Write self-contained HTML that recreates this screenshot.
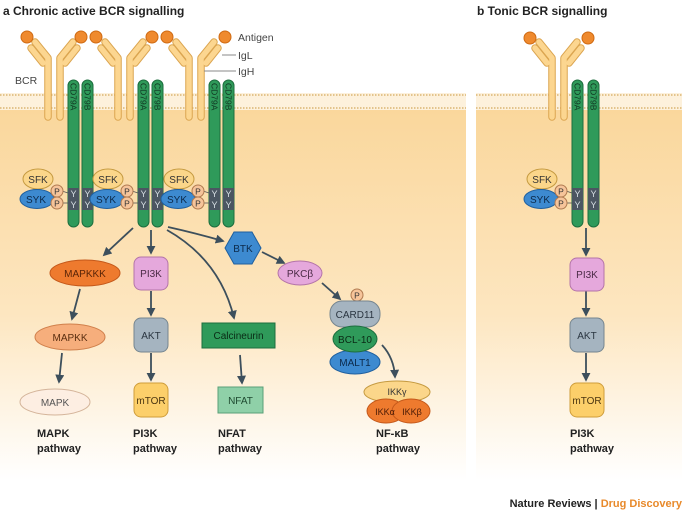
<!DOCTYPE html>
<html><head><meta charset="utf-8"><style>
html,body{margin:0;padding:0;background:#fff;}
svg{display:block;font-family:"Liberation Sans",sans-serif;}
</style></head><body>
<svg width="685" height="514" viewBox="0 0 685 514" xmlns="http://www.w3.org/2000/svg">
<defs>
<linearGradient id="bg" x1="0" y1="0" x2="0" y2="1">
<stop offset="0" stop-color="#fad79c"/><stop offset="0.55" stop-color="#fde6c0"/><stop offset="1" stop-color="#ffffff"/>
</linearGradient>
<marker id="ar" viewBox="0 0 10 10" refX="8" refY="5" markerWidth="5" markerHeight="5" orient="auto">
<path d="M0,0 L10,5 L0,10 z" fill="#3d4f5c"/></marker>
</defs>

<!-- backgrounds -->
<rect x="0" y="110" width="466" height="370" fill="url(#bg)"/>
<rect x="476" y="110" width="206" height="370" fill="url(#bg)"/>
<rect x="0" y="93" width="466" height="17" fill="#fdf1dc"/>
<rect x="476" y="93" width="206" height="17" fill="#fdf1dc"/>
<g stroke="#e3c48c" stroke-width="2" stroke-dasharray="1.5,1.5">
<line x1="0" y1="95" x2="466" y2="95"/><line x1="0" y1="108" x2="466" y2="108"/>
<line x1="476" y1="95" x2="682" y2="95"/><line x1="476" y1="108" x2="682" y2="108"/>
</g>

<!-- titles -->
<text x="3" y="15" font-size="12" font-weight="bold" fill="#222">a  Chronic active BCR signalling</text>
<text x="477" y="15" font-size="12" font-weight="bold" fill="#222">b  Tonic BCR signalling</text>

<!-- unit template drawn 4 times -->
<g id="u1" transform="translate(54,0)">
<g fill="none" stroke-linecap="round" stroke-linejoin="round">
<g stroke="#dba550" stroke-width="7.5"><path d="M-6,117 L-6,58 L-19,42"/><path d="M6,117 L6,58 L19,42"/><path d="M-11,63 L-23,48"/><path d="M11,63 L23,48"/></g>
<g stroke="#fcd690" stroke-width="5.5"><path d="M-6,117 L-6,58 L-19,42"/><path d="M6,117 L6,58 L19,42"/><path d="M-11,63 L-23,48"/><path d="M11,63 L23,48"/></g>
</g>
<circle cx="-27" cy="37" r="6" fill="#ef8a2e" stroke="#cf6a12"/><circle cx="27" cy="37" r="6" fill="#ef8a2e" stroke="#cf6a12"/>
<rect x="14" y="80" width="11" height="147" rx="5.5" fill="#2f9a5a" stroke="#1d6e3e"/>
<rect x="28" y="80" width="11" height="147" rx="5.5" fill="#2f9a5a" stroke="#1d6e3e"/>
<rect x="14" y="188" width="11" height="22" fill="#4b5662"/><rect x="28" y="188" width="11" height="22" fill="#4b5662"/>
<g font-size="9" fill="#d8e0e4" text-anchor="middle"><text x="19.5" y="197">Y</text><text x="19.5" y="208">Y</text><text x="33.5" y="197">Y</text><text x="33.5" y="208">Y</text></g>
<g font-size="8.5" fill="#0f3320"><text transform="translate(16.5,83) rotate(90)">CD79A</text><text transform="translate(30.5,83) rotate(90)">CD79B</text></g>
<line x1="8" y1="191" x2="14" y2="193" stroke="#555" stroke-width="0.8"/><line x1="8" y1="203" x2="14" y2="203" stroke="#555" stroke-width="0.8"/>
<ellipse cx="-16" cy="179" rx="15" ry="10" fill="#fbd68a" stroke="#c59a40"/>
<text x="-16" y="183" font-size="10" text-anchor="middle" fill="#333">SFK</text>
<ellipse cx="-17" cy="199" rx="17" ry="9.5" fill="#3d8ad0" stroke="#1f5f9e"/>
<text x="-18" y="203" font-size="10" text-anchor="middle" fill="#0c2a4a">SYK</text>
<circle cx="3" cy="191" r="6" fill="#f6c49a" stroke="#b07a50"/><text x="3" y="194.5" font-size="8.5" text-anchor="middle" fill="#333">P</text>
<circle cx="3" cy="203" r="6" fill="#f6c49a" stroke="#b07a50"/><text x="3" y="206.5" font-size="8.5" text-anchor="middle" fill="#333">P</text>
</g>

<g transform="translate(124,0)">
<g fill="none" stroke-linecap="round" stroke-linejoin="round">
<g stroke="#dba550" stroke-width="7.5"><path d="M-6,117 L-6,58 L-19,42"/><path d="M6,117 L6,58 L19,42"/><path d="M-11,63 L-23,48"/><path d="M11,63 L23,48"/></g>
<g stroke="#fcd690" stroke-width="5.5"><path d="M-6,117 L-6,58 L-19,42"/><path d="M6,117 L6,58 L19,42"/><path d="M-11,63 L-23,48"/><path d="M11,63 L23,48"/></g>
</g>
<circle cx="-28" cy="37" r="6" fill="#ef8a2e" stroke="#cf6a12"/><circle cx="28" cy="37" r="6" fill="#ef8a2e" stroke="#cf6a12"/>
<rect x="14" y="80" width="11" height="147" rx="5.5" fill="#2f9a5a" stroke="#1d6e3e"/>
<rect x="28" y="80" width="11" height="147" rx="5.5" fill="#2f9a5a" stroke="#1d6e3e"/>
<rect x="14" y="188" width="11" height="22" fill="#4b5662"/><rect x="28" y="188" width="11" height="22" fill="#4b5662"/>
<g font-size="9" fill="#d8e0e4" text-anchor="middle"><text x="19.5" y="197">Y</text><text x="19.5" y="208">Y</text><text x="33.5" y="197">Y</text><text x="33.5" y="208">Y</text></g>
<g font-size="8.5" fill="#0f3320"><text transform="translate(16.5,83) rotate(90)">CD79A</text><text transform="translate(30.5,83) rotate(90)">CD79B</text></g>
<line x1="8" y1="191" x2="14" y2="193" stroke="#555" stroke-width="0.8"/><line x1="8" y1="203" x2="14" y2="203" stroke="#555" stroke-width="0.8"/>
<ellipse cx="-16" cy="179" rx="15" ry="10" fill="#fbd68a" stroke="#c59a40"/>
<text x="-16" y="183" font-size="10" text-anchor="middle" fill="#333">SFK</text>
<ellipse cx="-17" cy="199" rx="17" ry="9.5" fill="#3d8ad0" stroke="#1f5f9e"/>
<text x="-18" y="203" font-size="10" text-anchor="middle" fill="#0c2a4a">SYK</text>
<circle cx="3" cy="191" r="6" fill="#f6c49a" stroke="#b07a50"/><text x="3" y="194.5" font-size="8.5" text-anchor="middle" fill="#333">P</text>
<circle cx="3" cy="203" r="6" fill="#f6c49a" stroke="#b07a50"/><text x="3" y="206.5" font-size="8.5" text-anchor="middle" fill="#333">P</text>
</g>

<g transform="translate(195,0)">
<g fill="none" stroke-linecap="round" stroke-linejoin="round">
<g stroke="#dba550" stroke-width="7.5"><path d="M-6,117 L-6,58 L-19,42"/><path d="M6,117 L6,58 L19,42"/><path d="M-11,63 L-23,48"/><path d="M11,63 L23,48"/></g>
<g stroke="#fcd690" stroke-width="5.5"><path d="M-6,117 L-6,58 L-19,42"/><path d="M6,117 L6,58 L19,42"/><path d="M-11,63 L-23,48"/><path d="M11,63 L23,48"/></g>
</g>
<circle cx="-28" cy="37" r="6" fill="#ef8a2e" stroke="#cf6a12"/><circle cx="30" cy="37" r="6" fill="#ef8a2e" stroke="#cf6a12"/>
<rect x="14" y="80" width="11" height="147" rx="5.5" fill="#2f9a5a" stroke="#1d6e3e"/>
<rect x="28" y="80" width="11" height="147" rx="5.5" fill="#2f9a5a" stroke="#1d6e3e"/>
<rect x="14" y="188" width="11" height="22" fill="#4b5662"/><rect x="28" y="188" width="11" height="22" fill="#4b5662"/>
<g font-size="9" fill="#d8e0e4" text-anchor="middle"><text x="19.5" y="197">Y</text><text x="19.5" y="208">Y</text><text x="33.5" y="197">Y</text><text x="33.5" y="208">Y</text></g>
<g font-size="8.5" fill="#0f3320"><text transform="translate(16.5,83) rotate(90)">CD79A</text><text transform="translate(30.5,83) rotate(90)">CD79B</text></g>
<line x1="8" y1="191" x2="14" y2="193" stroke="#555" stroke-width="0.8"/><line x1="8" y1="203" x2="14" y2="203" stroke="#555" stroke-width="0.8"/>
<ellipse cx="-16" cy="179" rx="15" ry="10" fill="#fbd68a" stroke="#c59a40"/>
<text x="-16" y="183" font-size="10" text-anchor="middle" fill="#333">SFK</text>
<ellipse cx="-17" cy="199" rx="17" ry="9.5" fill="#3d8ad0" stroke="#1f5f9e"/>
<text x="-18" y="203" font-size="10" text-anchor="middle" fill="#0c2a4a">SYK</text>
<circle cx="3" cy="191" r="6" fill="#f6c49a" stroke="#b07a50"/><text x="3" y="194.5" font-size="8.5" text-anchor="middle" fill="#333">P</text>
<circle cx="3" cy="203" r="6" fill="#f6c49a" stroke="#b07a50"/><text x="3" y="206.5" font-size="8.5" text-anchor="middle" fill="#333">P</text>
</g>

<g transform="translate(558,0)">
<g fill="none" stroke-linecap="round" stroke-linejoin="round">
<g stroke="#dba550" stroke-width="7.5"><path d="M-6,117 L-6,58 L-19,42"/><path d="M6,117 L6,58 L19,42"/><path d="M-11,63 L-23,48"/><path d="M11,63 L23,48"/></g>
<g stroke="#fcd690" stroke-width="5.5"><path d="M-6,117 L-6,58 L-19,42"/><path d="M6,117 L6,58 L19,42"/><path d="M-11,63 L-23,48"/><path d="M11,63 L23,48"/></g>
</g>
<circle cx="-28" cy="38" r="6" fill="#ef8a2e" stroke="#cf6a12"/><circle cx="30" cy="38" r="6" fill="#ef8a2e" stroke="#cf6a12"/>
<rect x="14" y="80" width="11" height="147" rx="5.5" fill="#2f9a5a" stroke="#1d6e3e"/>
<rect x="30" y="80" width="11" height="147" rx="5.5" fill="#2f9a5a" stroke="#1d6e3e"/>
<rect x="14" y="188" width="11" height="22" fill="#4b5662"/><rect x="30" y="188" width="11" height="22" fill="#4b5662"/>
<g font-size="9" fill="#d8e0e4" text-anchor="middle"><text x="19.5" y="197">Y</text><text x="19.5" y="208">Y</text><text x="35.5" y="197">Y</text><text x="35.5" y="208">Y</text></g>
<g font-size="8.5" fill="#0f3320"><text transform="translate(16.5,83) rotate(90)">CD79A</text><text transform="translate(32.5,83) rotate(90)">CD79B</text></g>
<line x1="8" y1="191" x2="14" y2="193" stroke="#555" stroke-width="0.8"/><line x1="8" y1="203" x2="14" y2="203" stroke="#555" stroke-width="0.8"/>
<ellipse cx="-16" cy="179" rx="15" ry="10" fill="#fbd68a" stroke="#c59a40"/>
<text x="-16" y="183" font-size="10" text-anchor="middle" fill="#333">SFK</text>
<ellipse cx="-17" cy="199" rx="17" ry="9.5" fill="#3d8ad0" stroke="#1f5f9e"/>
<text x="-18" y="203" font-size="10" text-anchor="middle" fill="#0c2a4a">SYK</text>
<circle cx="3" cy="191" r="6" fill="#f6c49a" stroke="#b07a50"/><text x="3" y="194.5" font-size="8.5" text-anchor="middle" fill="#333">P</text>
<circle cx="3" cy="203" r="6" fill="#f6c49a" stroke="#b07a50"/><text x="3" y="206.5" font-size="8.5" text-anchor="middle" fill="#333">P</text>
</g>

<!-- BCR labels -->
<g font-size="10.5" fill="#444">
<text x="238" y="41">Antigen</text>
<text x="238" y="59">IgL</text>
<text x="238" y="75">IgH</text>
<text x="15" y="84">BCR</text>
</g>
<line x1="222" y1="55" x2="236" y2="55" stroke="#888"/>
<line x1="204" y1="71" x2="236" y2="71" stroke="#888"/>

<!-- arrows panel a -->
<g fill="none" stroke="#3d4f5c" stroke-width="1.8" marker-end="url(#ar)">
<path d="M133,228 L104,255"/>
<path d="M151,230 L151,253"/>
<path d="M168,227 Q195,233 223,241"/>
<path d="M167,230 Q220,260 234,318"/>
<path d="M262,252 L284,263"/>
<path d="M322,283 L340,299"/>
<path d="M382,345 Q394,358 395,377"/>
<path d="M80,289 L72,319"/>
<path d="M62,353 L59,382"/>
<path d="M151,291 L151,315"/>
<path d="M151,353 L151,380"/>
<path d="M240,355 L242,383"/>
<path d="M586,228 L586,255"/>
<path d="M586,290 L586,315"/>
<path d="M586,353 L586,380"/>
</g>

<!-- MAPK -->
<ellipse cx="85" cy="273" rx="35" ry="13" fill="#ee7a2e" stroke="#c4581a"/>
<text x="85" y="277" font-size="10" text-anchor="middle" fill="#5a2508">MAPKKK</text>
<ellipse cx="70" cy="337" rx="35" ry="13" fill="#f6ae7c" stroke="#d0804c"/>
<text x="70" y="341" font-size="10" text-anchor="middle" fill="#5a2e10">MAPKK</text>
<ellipse cx="55" cy="402" rx="35" ry="13" fill="#fdeee2" stroke="#d4b49a"/>
<text x="55" y="406" font-size="10" text-anchor="middle" fill="#555">MAPK</text>

<!-- PI3K a -->
<rect x="134" y="257" width="34" height="33" rx="7" fill="#e5a8dc" stroke="#b474a8"/>
<text x="151" y="277" font-size="10" text-anchor="middle" fill="#4a2a45">PI3K</text>
<rect x="134" y="318" width="34" height="34" rx="7" fill="#a5b4c0" stroke="#75858f"/>
<text x="151" y="339" font-size="10" text-anchor="middle" fill="#2a3540">AKT</text>
<rect x="134" y="383" width="34" height="34" rx="7" fill="#fccf6a" stroke="#cf9d3a"/>
<text x="151" y="404" font-size="10" text-anchor="middle" fill="#4a3510">mTOR</text>

<!-- NFAT -->
<rect x="202" y="323" width="73" height="25" fill="#2f9a5a" stroke="#1d6e3e"/>
<text x="238.5" y="339" font-size="10" text-anchor="middle" fill="#0a2a15">Calcineurin</text>
<rect x="218" y="387" width="45" height="26" fill="#8fd0a8" stroke="#5aa078"/>
<text x="240.5" y="404" font-size="10" text-anchor="middle" fill="#1f4a30">NFAT</text>

<!-- NF-kB -->
<polygon points="225,248 234,232 252,232 261,248 252,264 234,264" fill="#3d8ad0" stroke="#1f5f9e"/>
<text x="243" y="252" font-size="10" text-anchor="middle" fill="#0c2a4a">BTK</text>
<ellipse cx="300" cy="273" rx="22" ry="12" fill="#e5a8dc" stroke="#b474a8"/>
<text x="300" y="277" font-size="10" text-anchor="middle" fill="#4a2a45">PKCβ</text>
<circle cx="357" cy="295" r="6" fill="#f6c49a" stroke="#b07a50"/><text x="357" y="298.5" font-size="8.5" text-anchor="middle" fill="#333">P</text>
<rect x="330" y="301" width="50" height="26" rx="12" fill="#a5b4c0" stroke="#75858f"/>
<text x="355" y="318" font-size="10" text-anchor="middle" fill="#2a3540">CARD11</text>
<ellipse cx="355" cy="362" rx="25" ry="12" fill="#3d8ad0" stroke="#1f5f9e"/>
<text x="355" y="366" font-size="10" text-anchor="middle" fill="#0c2a4a">MALT1</text>
<ellipse cx="355" cy="339" rx="22" ry="13" fill="#2f9a5a" stroke="#1d6e3e"/>
<text x="355" y="343" font-size="10" text-anchor="middle" fill="#0a2a15">BCL-10</text>
<ellipse cx="397" cy="392" rx="33" ry="11" fill="#fbd68a" stroke="#c59a40"/>
<text x="397" y="395" font-size="9" text-anchor="middle" fill="#333">IKKγ</text>
<ellipse cx="386" cy="411" rx="19" ry="12" fill="#ee7a2e" stroke="#c4581a"/>
<ellipse cx="411" cy="411" rx="19" ry="12" fill="#ee7a2e" stroke="#c4581a"/>
<text x="385" y="415" font-size="9" text-anchor="middle" fill="#4a1a05">IKKα</text>
<text x="412" y="415" font-size="9" text-anchor="middle" fill="#4a1a05">IKKβ</text>

<!-- PI3K b -->
<rect x="570" y="258" width="34" height="33" rx="7" fill="#e5a8dc" stroke="#b474a8"/>
<text x="587" y="278" font-size="10" text-anchor="middle" fill="#4a2a45">PI3K</text>
<rect x="570" y="318" width="34" height="34" rx="7" fill="#a5b4c0" stroke="#75858f"/>
<text x="587" y="339" font-size="10" text-anchor="middle" fill="#2a3540">AKT</text>
<rect x="570" y="383" width="34" height="34" rx="7" fill="#fccf6a" stroke="#cf9d3a"/>
<text x="587" y="404" font-size="10" text-anchor="middle" fill="#4a3510">mTOR</text>

<!-- pathway labels -->
<g font-size="11" font-weight="bold" fill="#222">
<text x="37" y="437">MAPK</text><text x="37" y="452">pathway</text>
<text x="133" y="437">PI3K</text><text x="133" y="452">pathway</text>
<text x="218" y="437">NFAT</text><text x="218" y="452">pathway</text>
<text x="376" y="437">NF-κB</text><text x="376" y="452">pathway</text>
<text x="570" y="437">PI3K</text><text x="570" y="452">pathway</text>
</g>

<text x="682" y="507" font-size="11" font-weight="bold" text-anchor="end" fill="#222">Nature Reviews | <tspan fill="#e8892a">Drug Discovery</tspan></text>
</svg>
</body></html>
